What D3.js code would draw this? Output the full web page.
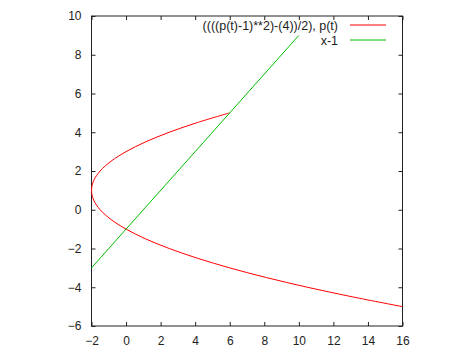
<!DOCTYPE html>
<html lang="en">
  <head>
    <meta charset="UTF-8" />
    <title>parametric</title>
    <script src="https://cdn.jsdelivr.net/npm/d3@7"></script>
    <style>
      body { margin: 0; background: #fff; }
      #svgBox { width: 474px; height: 355px; display: block; }
      text { font-family: 'Liberation Sans', Arial, sans-serif; font-size: 12px; fill: #222; }
    </style>
  </head>
  <body>
    <svg id="svgBox"></svg>
  </body>
  <script>
    // tick labels
    const xTicks = [-2, 0, 2, 4, 6, 8, 10, 12, 14, 16]
    const yTicks = [-6, -4, -2, 0, 2, 4, 6, 8, 10]
    // series 1: parametric curve [x, y]
    const curvePts = [
      [6, 5], [4.125, 4.5], [2.5, 4], [1.125, 3.5], [0, 3], [-0.875, 2.5],
      [-1.5, 2], [-1.875, 1.5], [-2, 1], [-1.875, 0.5], [-1.5, 0],
      [-0.875, -0.5], [0, -1], [1.125, -1.5], [2.5, -2], [4.125, -2.5],
      [6, -3], [8.125, -3.5], [10.5, -4], [13.125, -4.5], [16, -5]
    ]
    // series 2: x-1
    const linePts = [[-2, -3], [10, 9]]
    const legendNames = ['((((p(t)-1)**2)-(4))/2), p(t)', 'x-1']
    const colors = ['#ff0000', '#00c000']

    function init() {
      const svg = d3.select('#svgBox')
      const margin = { top: 16, right: 71.5, bottom: 29, left: 91.5 }
      const width = 474, height = 355
      const innerWidth = width - margin.left - margin.right
      const innerHeight = height - margin.top - margin.bottom

      const xScale = d3.scaleLinear().domain([-2, 16]).range([0, innerWidth])
      const yScale = d3.scaleLinear().domain([-6, 10]).range([innerHeight, 0])

      const g = svg.append('g').attr('transform', `translate(${margin.left} ${margin.top})`)

      // axes, ticks pointing inward, mirrored on top/right
      const tk = 4
      g.append('g').attr('transform', `translate(0 ${innerHeight})`)
        .call(d3.axisBottom(xScale).tickValues(xTicks).tickSize(-tk).tickPadding(10))
      g.append('g').call(d3.axisTop(xScale).tickValues(xTicks).tickSize(-tk).tickFormat(''))
      g.append('g').call(d3.axisLeft(yScale).tickValues(yTicks).tickSize(-tk).tickPadding(10))
      g.append('g').attr('transform', `translate(${innerWidth} 0)`)
        .call(d3.axisRight(yScale).tickValues(yTicks).tickSize(-tk).tickFormat(''))
      g.selectAll('.domain').remove()
      g.selectAll('.tick line').attr('stroke', '#222')
      g.selectAll('.tick text').style('font-size', '12px').attr('fill', '#222')
      g.append('rect')
        .attr('width', innerWidth).attr('height', innerHeight)
        .attr('fill', 'none').attr('stroke', '#222').attr('stroke-width', 1)

      const line = d3.line().x(d => xScale(d[0])).y(d => yScale(d[1]))

      g.append('path')
        .attr('d', line.curve(d3.curveCatmullRom)(curvePts))
        .attr('fill', 'none').attr('stroke', colors[0]).attr('stroke-width', 1)
      g.append('path')
        .attr('d', d3.line().x(d => xScale(d[0])).y(d => yScale(d[1]))(linePts))
        .attr('fill', 'none').attr('stroke', colors[1]).attr('stroke-width', 1)

      // legend
      const lg = svg.append('g')
      legendNames.forEach((name, i) => {
        const y = 25 + i * 15
        lg.append('text').attr('x', 338).attr('y', y + 4.5)
          .attr('text-anchor', 'end').style('font-size', '12.5px').text(name)
        lg.append('line').attr('x1', 350).attr('x2', 386)
          .attr('y1', y).attr('y2', y)
          .attr('stroke', colors[i]).attr('stroke-width', 1)
      })
    }
    init()
  </script>
</html>
